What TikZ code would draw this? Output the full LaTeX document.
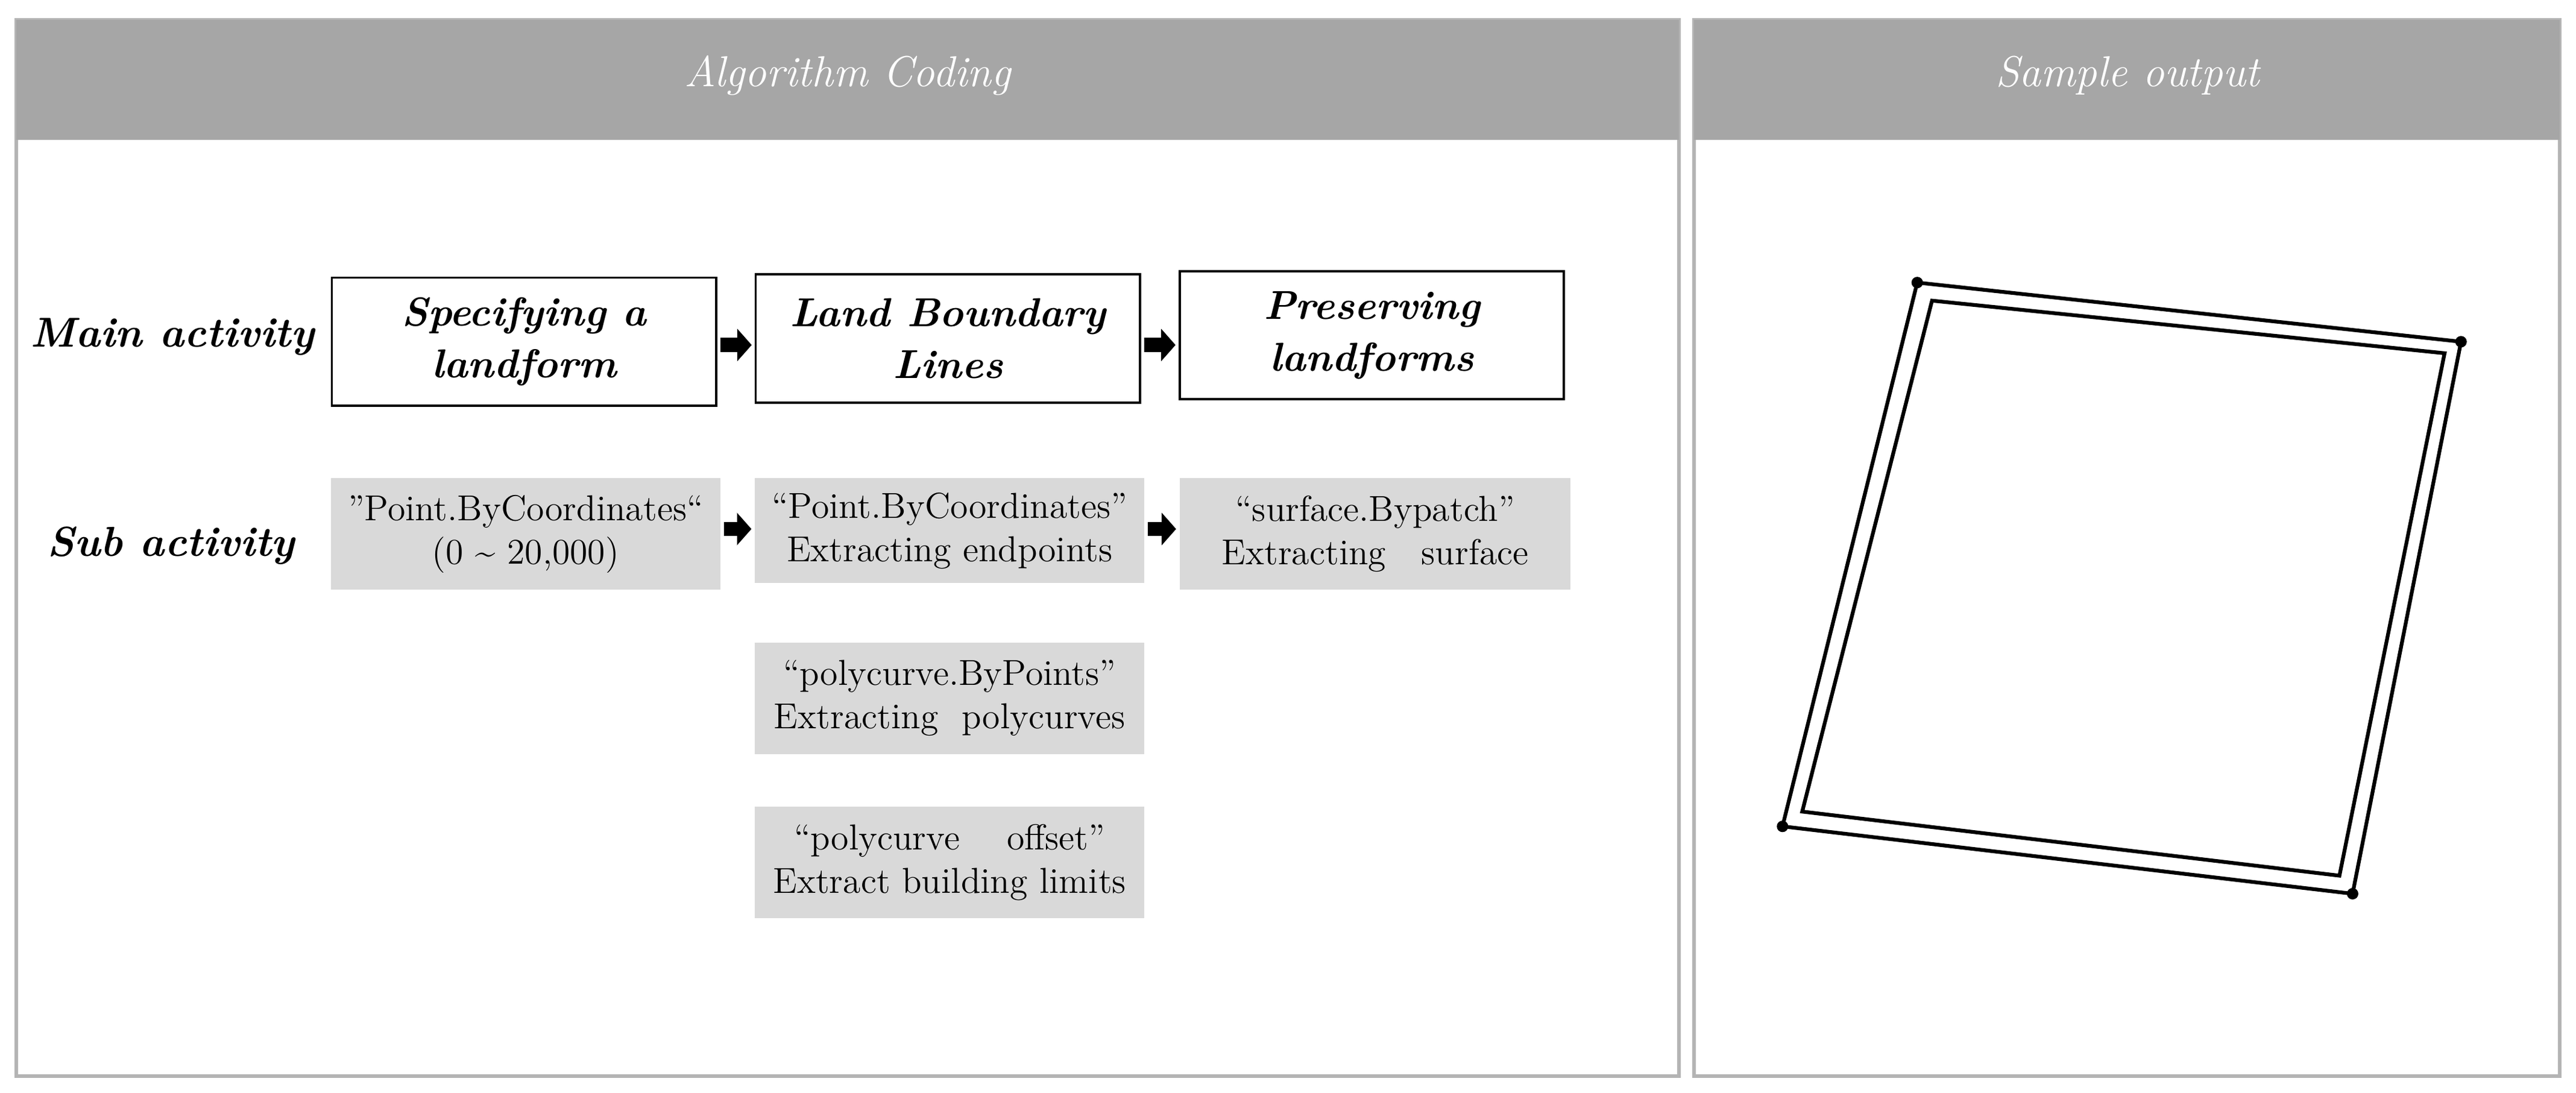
\documentclass[tikz,border=0pt]{standalone}
\usetikzlibrary{arrows.meta}
\definecolor{hdr}{RGB}{166,166,166}
\definecolor{subg}{RGB}{217,217,217}
\definecolor{frm}{RGB}{180,180,180}
\begin{document}
\begin{tikzpicture}[x=0.02cm,y=0.02cm,
  hdrtxt/.style={text=white,font=\fontsize{15}{18}\selectfont\itshape},
  lab/.style={font=\fontsize{14.5}{17}\selectfont\bfseries\itshape},
  mainbox/.style={draw=black,line width=0.8pt,minimum width=234*0.02cm,minimum height=78*0.02cm,align=center,font=\fontsize{14}{18}\selectfont\bfseries\itshape},
  subbox/.style={fill=subg,minimum width=237*0.02cm,minimum height=68*0.02cm,align=center,font=\fontsize{12.5}{15}\selectfont},
  blk/.style={-{Triangle[length=5pt,width=11pt]},line width=5pt,shorten <=1pt,shorten >=1pt}]
\useasboundingbox (0,0) rectangle (1568,-665);
% panels
\draw[frm,line width=1.2pt] (10,-12) rectangle (1022,-655);
\fill[hdr] (10,-12) rectangle (1022,-85);
\draw[frm,line width=1.2pt] (1031,-12) rectangle (1558,-655);
\fill[hdr] (1031,-12) rectangle (1558,-85);
\node[hdrtxt] (h1) at (516,-46) {Algorithm Coding};
\node[hdrtxt] (h2) at (1295,-46) {Sample output};
% labels
\node[lab] (lm) at (105,-205) {Main activity};
\node[lab] (ls) at (104,-332) {Sub activity};
% main boxes
\node[mainbox] (m1) at (319,-208) {Specifying a\\landform};
\node[mainbox] (m2) at (577,-206) {Land Boundary\\Lines};
\node[mainbox] (m3) at (835,-204) {Preserving\\landforms};
\draw[blk] (m1.east|-0,-210) -- (m2.west|-0,-210);
\draw[blk] (m2.east|-0,-210) -- (m3.west|-0,-210);
% sub boxes
\node[subbox] (s1) at (320,-325) {"Point.ByCoordinates``\\(0 \~{} 20,000)};
\node[subbox,minimum height=64*0.02cm] (s2) at (578,-323) {``Point.ByCoordinates''\\Extracting endpoints};
\node[subbox,minimum width=238*0.02cm] (s3) at (837,-325) {``surface.Bypatch''\\Extracting\ \ \ surface};
\node[subbox] (s4) at (578,-425) {``polycurve.ByPoints''\\Extracting\ \ polycurves};
\node[subbox] (s5) at (578,-525) {``polycurve\ \ \ \ offset''\\Extract building limits};
\draw[blk] (s1.east|-0,-322) -- (s2.west|-0,-322);
\draw[blk] (s2.east|-0,-322) -- (s3.west|-0,-322);
% sample output
\coordinate (a) at (1167,-172);
\coordinate (b) at (1498,-208);
\coordinate (c) at (1432,-544);
\coordinate (d) at (1085,-503);
\draw[line width=1.3pt] (a) -- (b) -- (c) -- (d) -- cycle;
\draw[line width=1.3pt] (1176,-183) -- (1488,-215) -- (1424,-533) -- (1097,-494) -- cycle;
\foreach \p in {a,b,c,d} \fill (\p) circle (3.5);
\end{tikzpicture}
\end{document}
